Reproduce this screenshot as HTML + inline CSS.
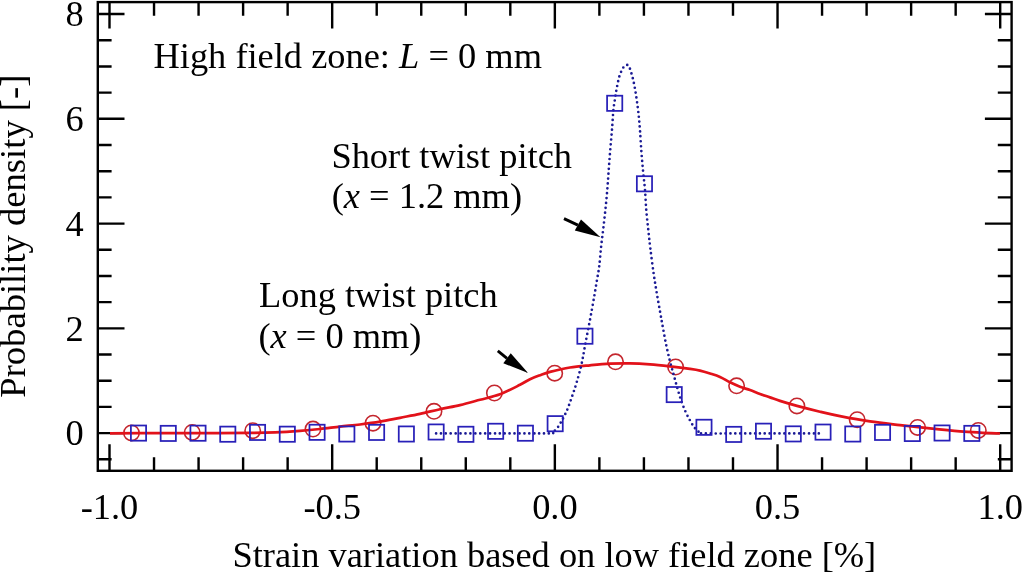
<!DOCTYPE html>
<html><head><meta charset="utf-8"><style>html,body{margin:0;padding:0;background:#fff;overflow:hidden}svg{display:block;will-change:transform}text{font-family:"Liberation Serif",serif}</style></head>
<body><svg width="1025" height="574" viewBox="0 0 1025 574">
<rect x="97.8" y="2.1" width="913.80" height="468.70" fill="none" stroke="#000" stroke-width="2.4"/>
<path d="M109.50 470.8V444.30M109.50 2.1V28.60M154.03 470.8V457.20M154.03 2.1V15.70M198.57 470.8V457.20M198.57 2.1V15.70M243.11 470.8V457.20M243.11 2.1V15.70M287.64 470.8V457.20M287.64 2.1V15.70M332.18 470.8V444.30M332.18 2.1V28.60M376.71 470.8V457.20M376.71 2.1V15.70M421.25 470.8V457.20M421.25 2.1V15.70M465.78 470.8V457.20M465.78 2.1V15.70M510.31 470.8V457.20M510.31 2.1V15.70M554.85 470.8V444.30M554.85 2.1V28.60M599.38 470.8V457.20M599.38 2.1V15.70M643.92 470.8V457.20M643.92 2.1V15.70M688.46 470.8V457.20M688.46 2.1V15.70M732.99 470.8V457.20M732.99 2.1V15.70M777.53 470.8V444.30M777.53 2.1V28.60M822.06 470.8V457.20M822.06 2.1V15.70M866.60 470.8V457.20M866.60 2.1V15.70M911.13 470.8V457.20M911.13 2.1V15.70M955.67 470.8V457.20M955.67 2.1V15.70M1000.20 470.8V444.30M1000.20 2.1V28.60M97.8 459.29H111.60M1011.6 459.29H997.80M97.8 433.10H124.50M1011.6 433.10H984.90M97.8 406.91H111.60M1011.6 406.91H997.80M97.8 380.72H111.60M1011.6 380.72H997.80M97.8 354.53H111.60M1011.6 354.53H997.80M97.8 328.34H124.50M1011.6 328.34H984.90M97.8 302.15H111.60M1011.6 302.15H997.80M97.8 275.96H111.60M1011.6 275.96H997.80M97.8 249.77H111.60M1011.6 249.77H997.80M97.8 223.58H124.50M1011.6 223.58H984.90M97.8 197.39H111.60M1011.6 197.39H997.80M97.8 171.20H111.60M1011.6 171.20H997.80M97.8 145.01H111.60M1011.6 145.01H997.80M97.8 118.82H124.50M1011.6 118.82H984.90M97.8 92.63H111.60M1011.6 92.63H997.80M97.8 66.44H111.60M1011.6 66.44H997.80M97.8 40.25H111.60M1011.6 40.25H997.80M97.8 14.06H124.50M1011.6 14.06H984.90" stroke="#000" stroke-width="2.4" fill="none"/>
<g fill="none" stroke="#c4262e" stroke-width="1.6"><circle cx="131.5" cy="432.9" r="7.7"/><circle cx="192.2" cy="432.4" r="7.7"/><circle cx="252.7" cy="430.7" r="7.7"/><circle cx="313" cy="429.1" r="7.7"/><circle cx="373" cy="423.2" r="7.7"/><circle cx="434" cy="411.3" r="7.7"/><circle cx="494.4" cy="393" r="7.7"/><circle cx="554.7" cy="373.2" r="7.7"/><circle cx="615.5" cy="361.8" r="7.7"/><circle cx="675.6" cy="367" r="7.7"/><circle cx="736.6" cy="385.8" r="7.7"/><circle cx="796.9" cy="405.9" r="7.7"/><circle cx="857.2" cy="419.7" r="7.7"/><circle cx="917.6" cy="427.4" r="7.7"/><circle cx="978.3" cy="430.4" r="7.7"/></g>
<path d="M110.00 433.30C116.67 433.28 135.00 433.23 150.00 433.20C165.00 433.17 183.33 433.15 200.00 433.10C216.67 433.05 237.50 433.03 250.00 432.90C262.50 432.77 266.67 432.65 275.00 432.30C283.33 431.95 292.50 431.35 300.00 430.80C307.50 430.25 313.33 429.70 320.00 429.00C326.67 428.30 333.33 427.35 340.00 426.60C346.67 425.85 353.33 425.32 360.00 424.50C366.67 423.68 373.33 422.82 380.00 421.70C386.67 420.58 393.33 419.10 400.00 417.80C406.67 416.50 413.33 415.33 420.00 413.90C426.67 412.47 433.33 410.67 440.00 409.20C446.67 407.73 453.33 406.67 460.00 405.10C466.67 403.53 473.33 401.60 480.00 399.80C486.67 398.00 493.33 396.80 500.00 394.30C506.67 391.80 515.00 387.32 520.00 384.80C525.00 382.28 526.67 380.80 530.00 379.20C533.33 377.60 536.67 376.42 540.00 375.20C543.33 373.98 545.00 373.18 550.00 371.90C555.00 370.62 563.33 368.60 570.00 367.50C576.67 366.40 583.33 365.93 590.00 365.30C596.67 364.67 603.33 364.02 610.00 363.70C616.67 363.38 623.33 363.28 630.00 363.40C636.67 363.52 643.33 363.90 650.00 364.40C656.67 364.90 663.33 365.65 670.00 366.40C676.67 367.15 685.00 368.20 690.00 368.90C695.00 369.60 696.67 369.83 700.00 370.60C703.33 371.37 706.67 372.43 710.00 373.50C713.33 374.57 716.67 375.53 720.00 377.00C723.33 378.47 726.67 380.68 730.00 382.30C733.33 383.92 736.67 385.40 740.00 386.70C743.33 388.00 746.67 388.88 750.00 390.10C753.33 391.32 756.67 392.78 760.00 394.00C763.33 395.22 766.67 396.25 770.00 397.40C773.33 398.55 775.50 399.48 780.00 400.90C784.50 402.32 790.33 404.10 797.00 405.90C803.67 407.70 812.83 410.00 820.00 411.70C827.17 413.40 831.67 414.48 840.00 416.10C848.33 417.72 860.00 419.90 870.00 421.40C880.00 422.90 890.00 423.93 900.00 425.10C910.00 426.27 920.00 427.37 930.00 428.40C940.00 429.43 951.67 430.60 960.00 431.30C968.33 432.00 973.33 432.23 980.00 432.60C986.67 432.97 996.67 433.35 1000.00 433.50" fill="none" stroke="#e2121a" stroke-width="2.7" stroke-linejoin="round"/>
<path d="M436.10 433.40C446.75 433.40 481.18 433.40 500.00 433.40C518.82 433.40 540.33 433.53 549.00 433.40C557.67 433.27 551.10 433.00 552.00 432.60C552.90 432.20 553.47 431.83 554.40 431.00C555.33 430.17 556.60 428.92 557.60 427.60C558.60 426.28 559.53 424.55 560.40 423.10C561.27 421.65 561.70 421.03 562.80 418.90C563.90 416.77 565.72 413.30 567.00 410.30C568.28 407.30 569.38 404.00 570.50 400.90C571.62 397.80 572.65 394.87 573.70 391.70C574.75 388.53 575.50 386.47 576.80 381.90C578.10 377.33 580.08 370.58 581.50 364.30C582.92 358.02 583.55 353.42 585.30 344.20C587.05 334.98 590.08 319.53 592.00 309.00C593.92 298.47 595.60 288.08 596.80 281.00C598.00 273.92 598.48 272.20 599.20 266.50C599.92 260.80 600.40 253.28 601.10 246.80C601.80 240.32 602.65 234.10 603.40 227.60C604.15 221.10 604.93 214.35 605.60 207.80C606.27 201.25 606.87 194.82 607.40 188.30C607.93 181.78 608.32 175.22 608.80 168.70C609.28 162.18 609.77 155.72 610.30 149.20C610.83 142.68 611.48 136.13 612.00 129.60C612.52 123.07 612.93 114.90 613.40 110.00C613.87 105.10 614.32 103.43 614.80 100.20C615.28 96.97 615.73 93.80 616.30 90.60C616.87 87.40 617.65 83.50 618.20 81.00C618.75 78.50 619.08 77.22 619.60 75.60C620.12 73.98 620.68 72.65 621.30 71.30C621.92 69.95 622.60 68.50 623.30 67.50C624.00 66.50 624.88 65.73 625.50 65.30C626.12 64.87 626.50 64.85 627.00 64.90C627.50 64.95 627.98 64.90 628.50 65.60C629.02 66.30 629.37 66.92 630.10 69.10C630.83 71.28 632.10 75.50 632.90 78.70C633.70 81.90 634.30 85.03 634.90 88.30C635.50 91.57 636.02 95.05 636.50 98.30C636.98 101.55 637.40 104.60 637.80 107.80C638.20 111.00 638.52 113.48 638.90 117.50C639.28 121.52 639.68 126.17 640.10 131.90C640.52 137.63 640.90 145.30 641.40 151.90C641.90 158.50 642.50 165.15 643.10 171.50C643.70 177.85 644.47 183.50 645.00 190.00C645.53 196.50 645.75 203.83 646.30 210.50C646.85 217.17 647.62 223.60 648.30 230.00C648.98 236.40 649.50 241.58 650.40 248.90C651.30 256.22 652.62 266.40 653.70 273.90C654.78 281.40 655.80 287.37 656.90 293.90C658.00 300.43 659.32 307.58 660.30 313.10C661.28 318.62 661.85 321.85 662.80 327.00C663.75 332.15 664.82 338.33 666.00 344.00C667.18 349.67 668.57 355.67 669.90 361.00C671.23 366.33 672.72 371.33 674.00 376.00C675.28 380.67 676.35 384.75 677.60 389.00C678.85 393.25 680.12 397.58 681.50 401.50C682.88 405.42 684.42 409.23 685.90 412.50C687.38 415.77 688.97 418.58 690.40 421.10C691.83 423.62 692.98 425.73 694.50 427.60C696.02 429.47 697.83 431.33 699.50 432.30C701.17 433.27 694.42 433.22 704.50 433.40C714.58 433.58 740.25 433.40 760.00 433.40C779.75 433.40 812.50 433.40 823.00 433.40" fill="none" stroke="#1a1a94" stroke-width="2.7" stroke-linecap="round" stroke-dasharray="0 4.9"/>
<g fill="none" stroke="#2820b8" stroke-width="1.75"><rect x="130.90" y="425.50" width="15.2" height="15.2"/><rect x="160.66" y="425.80" width="15.2" height="15.2"/><rect x="190.42" y="425.60" width="15.2" height="15.2"/><rect x="220.19" y="426.60" width="15.2" height="15.2"/><rect x="249.95" y="424.80" width="15.2" height="15.2"/><rect x="279.71" y="426.60" width="15.2" height="15.2"/><rect x="309.47" y="424.70" width="15.2" height="15.2"/><rect x="339.23" y="426.40" width="15.2" height="15.2"/><rect x="369.00" y="424.80" width="15.2" height="15.2"/><rect x="398.76" y="426.40" width="15.2" height="15.2"/><rect x="428.52" y="424.40" width="15.2" height="15.2"/><rect x="458.28" y="426.70" width="15.2" height="15.2"/><rect x="488.04" y="423.70" width="15.2" height="15.2"/><rect x="517.81" y="425.60" width="15.2" height="15.2"/><rect x="547.57" y="416.10" width="15.2" height="15.2"/><rect x="577.33" y="328.60" width="15.2" height="15.2"/><rect x="607.09" y="95.70" width="15.2" height="15.2"/><rect x="636.85" y="176.20" width="15.2" height="15.2"/><rect x="666.62" y="387.00" width="15.2" height="15.2"/><rect x="696.38" y="419.70" width="15.2" height="15.2"/><rect x="726.14" y="426.80" width="15.2" height="15.2"/><rect x="755.90" y="423.60" width="15.2" height="15.2"/><rect x="785.66" y="426.30" width="15.2" height="15.2"/><rect x="815.43" y="424.50" width="15.2" height="15.2"/><rect x="845.19" y="426.40" width="15.2" height="15.2"/><rect x="874.95" y="424.80" width="15.2" height="15.2"/><rect x="904.71" y="425.90" width="15.2" height="15.2"/><rect x="934.47" y="425.40" width="15.2" height="15.2"/><rect x="964.24" y="425.80" width="15.2" height="15.2"/></g>
<path d="M564 218.6L577.9 225.1" stroke="#000" stroke-width="2.9" stroke-linecap="butt"/><path d="M600.5 237.3L581 219.6L574.8 230.5Z" fill="#000"/>
<path d="M497.8 350.9L507.0 358.3" stroke="#000" stroke-width="2.9" stroke-linecap="butt"/><path d="M528.1 372.9L510.7 353.3L503.3 363.3Z" fill="#000"/>
<g font-family="Liberation Serif" font-size="36.4" fill="#000"><text x="83.6" y="445.3" text-anchor="end">0</text><text x="83.6" y="340.5" text-anchor="end">2</text><text x="83.6" y="235.8" text-anchor="end">4</text><text x="83.6" y="131.0" text-anchor="end">6</text><text x="83.6" y="26.3" text-anchor="end">8</text><text x="109.5" y="518.9" text-anchor="middle">-1.0</text><text x="332.2" y="518.9" text-anchor="middle">-0.5</text><text x="554.9" y="518.9" text-anchor="middle">0.0</text><text x="777.5" y="518.9" text-anchor="middle">0.5</text><text x="1000.2" y="518.9" text-anchor="middle">1.0</text><text x="232.5" y="566.5">Strain variation based on low field zone [%]</text><text transform="translate(24.6 397.7) rotate(-90)" font-size="36.6">Probability density [-]</text><text x="153.5" y="68">High field zone: <tspan font-style="italic">L</tspan> = 0 mm</text><text x="331.4" y="168.1">Short twist pitch</text><text x="331.7" y="208.4">(<tspan font-style="italic">x</tspan> = 1.2 mm)</text><text x="259.1" y="307.1">Long twist pitch</text><text x="258.4" y="347.9">(<tspan font-style="italic">x</tspan> = 0 mm)</text></g>
</svg></body></html>
